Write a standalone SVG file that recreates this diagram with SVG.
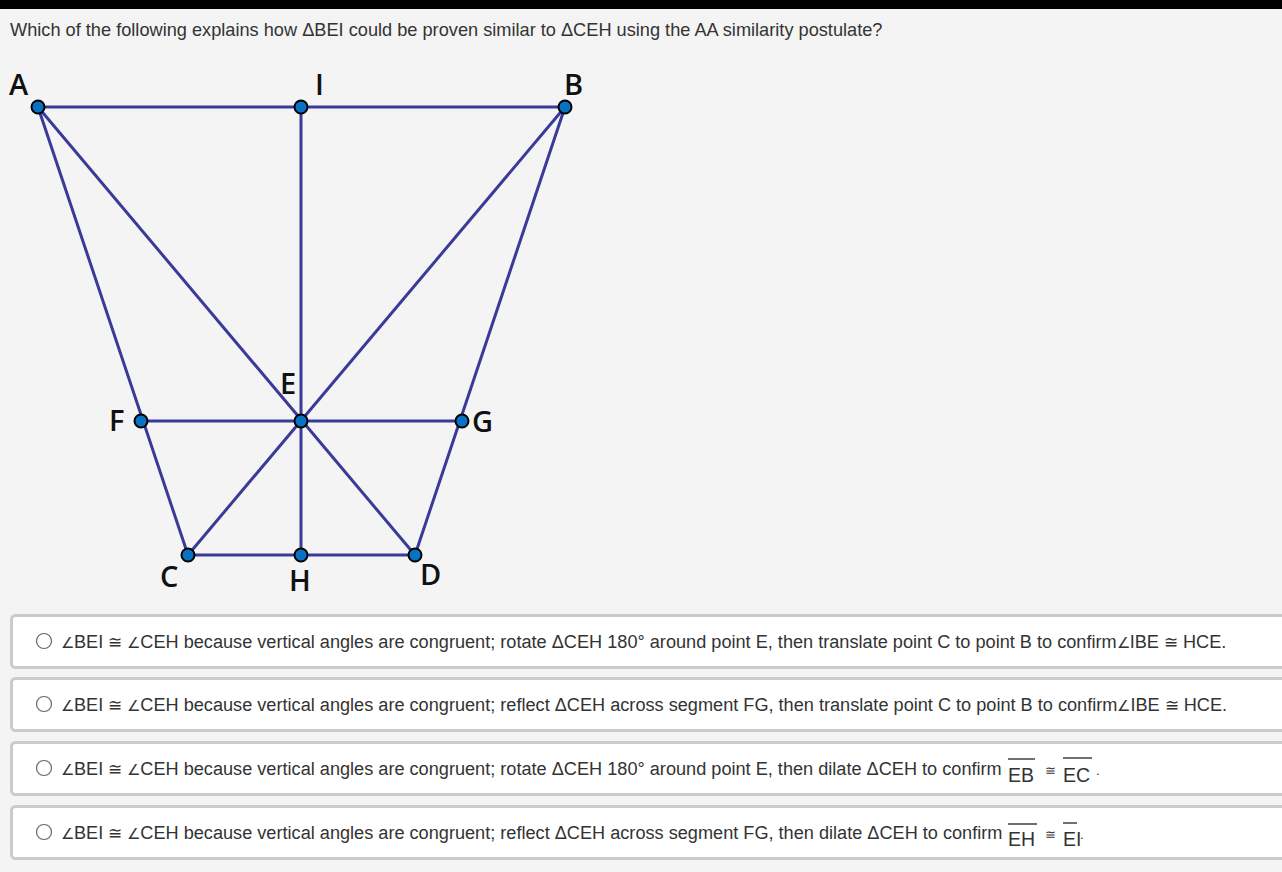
<svg xmlns="http://www.w3.org/2000/svg" width="1282" height="872" viewBox="0 0 1282 872">
<style>
.q{font-family:"Liberation Sans",Arial,sans-serif;font-size:18.15px;fill:#333}
.lbl{font-family:"Open Sans",sans-serif;font-weight:600;font-size:29px;fill:#111}
.seg{stroke:#3a3a99;stroke-width:3;fill:none;stroke-linecap:round}
.pt{fill:#0a72c2;stroke:#000;stroke-width:2}
.box{fill:#fff;stroke:#cbcbcb;stroke-width:3}
.radio{fill:#fff;stroke:#666;stroke-width:1.2}
.ov{stroke:#333;stroke-width:1.4}
.big{font-size:19.5px}
.sm{font-size:13px}
.ang{font-size:15px}
.cg{font-size:17px}
</style>
<rect width="1282" height="872" fill="#f4f4f4"/>
<rect width="1282" height="9" fill="#000"/>
<text class="q" x="10" y="36" style="font-size:18.2px">Which of the following explains how ΔBEI could be proven similar to ΔCEH using the AA similarity postulate?</text>
<g id="connectors">
<line class="seg" x1="38" y1="107" x2="565" y2="107"/>
<line class="seg" x1="38" y1="107" x2="188" y2="555"/>
<line class="seg" x1="565" y1="107" x2="415" y2="555"/>
<line class="seg" x1="38" y1="107" x2="415" y2="555"/>
<line class="seg" x1="565" y1="107" x2="188" y2="555"/>
<line class="seg" x1="301" y1="107" x2="301" y2="555"/>
<line class="seg" x1="141" y1="421" x2="462" y2="421"/>
<line class="seg" x1="188" y1="555" x2="415" y2="555"/>
</g>
<g id="A"><circle class="pt" cx="38" cy="107" r="6.5"/><text class="lbl" x="9" y="95">A</text></g>
<g id="I"><circle class="pt" cx="301" cy="107" r="6.5"/><text class="lbl" x="315" y="95">I</text></g>
<g id="B"><circle class="pt" cx="565" cy="107" r="6.5"/><text class="lbl" x="564" y="95">B</text></g>
<g id="E"><circle class="pt" cx="301" cy="421" r="6.5"/><text class="lbl" x="280" y="394">E</text></g>
<g id="F"><circle class="pt" cx="141" cy="421" r="6.5"/><text class="lbl" x="109" y="431">F</text></g>
<g id="G"><circle class="pt" cx="462" cy="421" r="6.5"/><text class="lbl" x="472" y="432">G</text></g>
<g id="C"><circle class="pt" cx="188" cy="555" r="6.5"/><text class="lbl" x="160" y="587">C</text></g>
<g id="H"><circle class="pt" cx="301" cy="555" r="6.5"/><text class="lbl" x="289" y="591">H</text></g>
<g id="D"><circle class="pt" cx="415" cy="555" r="6.5"/><text class="lbl" x="420" y="585">D</text></g>
<g id="opt1">
<rect class="box" x="11.5" y="615.5" width="1290" height="52" rx="4"/>
<circle class="radio" cx="44" cy="641" r="7.5"/>
<text class="q" x="61" y="648"><tspan class="ang">∠</tspan>BEI <tspan class="cg">≅</tspan> <tspan class="ang">∠</tspan>CEH because vertical angles are congruent; rotate ΔCEH 180° around point E, then translate point C to point B to confirm<tspan class="ang">∠</tspan>IBE <tspan class="cg">≅</tspan> HCE.</text>
</g>
<g id="opt2">
<rect class="box" x="11.5" y="678.5" width="1290" height="52" rx="4"/>
<circle class="radio" cx="44" cy="704" r="7.5"/>
<text class="q" x="61" y="711"><tspan class="ang">∠</tspan>BEI <tspan class="cg">≅</tspan> <tspan class="ang">∠</tspan>CEH because vertical angles are congruent; reflect ΔCEH across segment FG, then translate point C to point B to confirm<tspan class="ang">∠</tspan>IBE <tspan class="cg">≅</tspan> HCE.</text>
</g>
<g id="opt3">
<rect class="box" x="11.5" y="742.5" width="1290" height="52" rx="4"/>
<circle class="radio" cx="44" cy="768" r="7.5"/>
<text class="q" x="61" y="775"><tspan class="ang">∠</tspan>BEI <tspan class="cg">≅</tspan> <tspan class="ang">∠</tspan>CEH because vertical angles are congruent; rotate ΔCEH 180° around point E, then dilate ΔCEH to confirm</text>
<text class="q big" x="1008" y="782">EB</text>
<line class="ov" x1="1008" y1="759" x2="1035" y2="759"/>
<text class="q sm" x="1045" y="775">≅</text>
<text class="q big" x="1063" y="782">EC</text>
<line class="ov" x1="1063" y1="758" x2="1092" y2="758"/>
<text class="q sm" x="1096" y="775">.</text>
</g>
<g id="opt4">
<rect class="box" x="11.5" y="806.5" width="1290" height="52" rx="4"/>
<circle class="radio" cx="44" cy="832" r="7.5"/>
<text class="q" x="61" y="839"><tspan class="ang">∠</tspan>BEI <tspan class="cg">≅</tspan> <tspan class="ang">∠</tspan>CEH because vertical angles are congruent; reflect ΔCEH across segment FG, then dilate ΔCEH to confirm</text>
<text class="q big" x="1008" y="846">EH</text>
<line class="ov" x1="1008" y1="824" x2="1037" y2="824"/>
<text class="q sm" x="1045" y="839">≅</text>
<text class="q big" x="1063" y="846">EI</text>
<line class="ov" x1="1063" y1="823" x2="1077" y2="823"/>
<text class="q sm" x="1080" y="839">.</text>
</g>
</svg>
